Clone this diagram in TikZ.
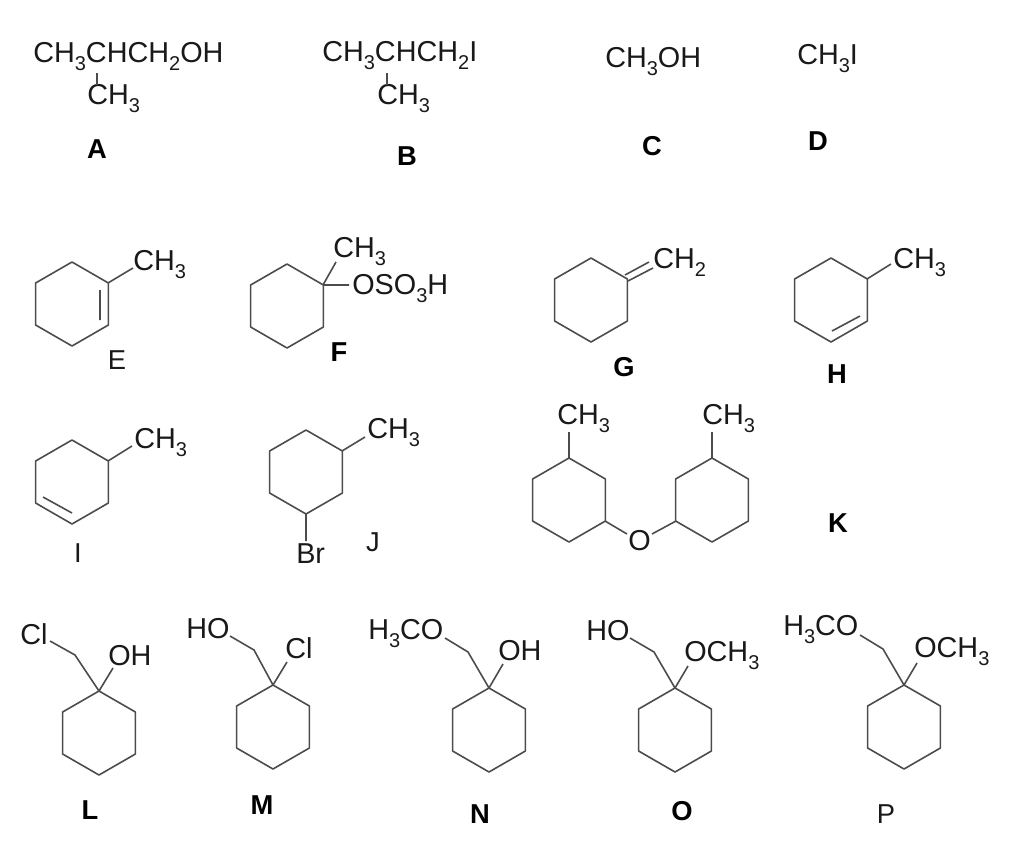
\documentclass[tikz,border=0pt]{standalone}
\usepackage{fontspec}
\setmainfont{Liberation Sans}
\newcommand{\lowr}[1]{\raisebox{-0.28em}{\fontsize{15}{16}\selectfont #1}}
\newcommand{\hexring}[2]{\draw[bond] (#1,#2-42) -- (#1+36.4,#2-21) -- (#1+36.4,#2+21) -- (#1,#2+42) -- (#1-36.4,#2+21) -- (#1-36.4,#2-21) -- cycle;}
\tikzset{
  bond/.style={line width=1.2pt,draw=black!70,line join=round},
  chem/.style={inner sep=0pt,anchor=base west,text=black!90,font=\fontsize{21.6}{24}\selectfont},
  tagb/.style={inner sep=0pt,anchor=base,text=black,font=\fontsize{20.5}{24}\selectfont\bfseries},
  tagr/.style={inner sep=0pt,anchor=base,text=black!90,font=\fontsize{20.5}{24}\selectfont},
}
\begin{document}
\begin{tikzpicture}[x=0.75pt,y=-0.75pt]
\useasboundingbox (0,0) rectangle (1024,854);
% row 1
\node[chem] (a1) at (33,62) {CH\lowr{3}CHCH\lowr{2}OH};
\node[chem] (a2) at (87,104) {CH\lowr{3}};
\draw[bond] (97,73) -- (97,85);
\node[tagb] (tA) at (97,158) {A};
\node[chem] (b1) at (322,61) {CH\lowr{3}CHCH\lowr{2}I};
\node[chem] (b2) at (377,104) {CH\lowr{3}};
\draw[bond] (387,73) -- (387,85);
\node[tagb] (tB) at (407,165) {B};
\node[chem] (c1) at (605,67) {CH\lowr{3}OH};
\node[tagb] (tC) at (652,155) {C};
\node[chem] (d1) at (797,64) {CH\lowr{3}I};
\node[tagb] (tD) at (818,150) {D};
% row 2
\hexring{72}{304}
\draw[bond] (100,290) -- (100,320) (108,283) -- (133,268);
\node[chem] (e1) at (133,270) {CH\lowr{3}};
\node[tagr] (tE) at (117,369) {E};
\hexring{287}{306}
\draw[bond] (323,285) -- (336,262) (323,285) -- (349,285);
\node[chem] (f1) at (333,257) {CH\lowr{3}};
\node[chem] (f2) at (352,294) {OSO\lowr{3}H};
\node[tagb] (tF) at (339,361) {F};
\hexring{591}{300}
\draw[bond] (625,275) -- (649,262) (628,281) -- (653,268);
\node[chem] (g1) at (653,268) {CH\lowr{2}};
\node[tagb] (tG) at (624,376) {G};
\hexring{831}{300}
\draw[bond] (832,331) -- (860,316) (867,279) -- (891,264);
\node[chem] (h1) at (893,268) {CH\lowr{3}};
\node[tagb] (tH) at (837,383) {H};
% row 3
\hexring{72}{482}
\draw[bond] (43,497) -- (72,513) (108,461) -- (132,446);
\node[chem] (i1) at (134,448) {CH\lowr{3}};
\node[tagr] (tI) at (78,562) {I};
\hexring{306}{472}
\draw[bond] (342,451) -- (365,437) (306,514) -- (306,541);
\node[chem] (j1) at (367,438) {CH\lowr{3}};
\node[chem] (j2) at (296,563) {Br};
\node[tagr] (tJ) at (373,551) {J};
\hexring{569}{500}
\hexring{712}{500}
\draw[bond] (569,458) -- (569,432) (712,458) -- (712,432) (605,521) -- (627,534) (652,534) -- (676,521);
\node[chem] (k1) at (557,424) {CH\lowr{3}};
\node[chem] (k2) at (702,424) {CH\lowr{3}};
\node[chem] (k3) at (628,550) {O};
\node[tagb] (tK) at (838,532) {K};
% row 4
\hexring{99}{733}
\draw[bond] (99,691) -- (75,655) -- (50,641) (99,691) -- (113,668);
\node[chem] (l1) at (20,644) {Cl};
\node[chem] (l2) at (108,665) {OH};
\node[tagb] (tL) at (90,819) {L};
\hexring{273}{727}
\draw[bond] (273,685) -- (254,650) -- (230,636) (273,685) -- (287,662);
\node[chem] (m1) at (186,638) {HO};
\node[chem] (m2) at (285,658) {Cl};
\node[tagb] (tM) at (262,814) {M};
\hexring{489}{730}
\draw[bond] (489,688) -- (468,652) -- (445,638) (489,688) -- (503,664);
\node[chem] (n1) at (368,639) {H\lowr{3}CO};
\node[chem] (n2) at (498,660) {OH};
\node[tagb] (tN) at (480,823) {N};
\hexring{675}{730}
\draw[bond] (675,688) -- (654,652) -- (630,638) (675,688) -- (688,666);
\node[chem] (o1) at (586,640) {HO};
\node[chem] (o2) at (684,661) {OCH\lowr{3}};
\node[tagb] (tO) at (682,820) {O};
\hexring{904}{727}
\draw[bond] (904,685) -- (883,649) -- (860,635) (904,685) -- (917,663);
\node[chem] (p1) at (783,635) {H\lowr{3}CO};
\node[chem] (p2) at (914,657) {OCH\lowr{3}};
\node[tagr] (tP) at (886,823) {P};
\end{tikzpicture}
\end{document}
